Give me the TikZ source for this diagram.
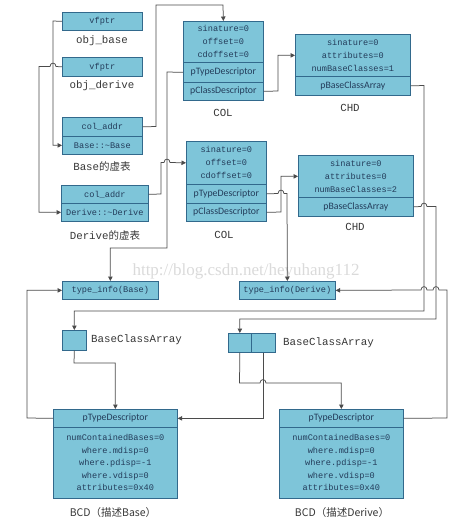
\documentclass[tikz,border=0pt]{standalone}
\usepackage{fontspec}
\setmainfont{Liberation Mono}
\newfontfamily\sansf{Carlito}
\newfontfamily\cjk{Noto Sans CJK SC}
\newfontfamily\wmf{Liberation Serif}
\usetikzlibrary{arrows.meta}
\definecolor{boxfill}{RGB}{126,197,217}
\definecolor{boxdraw}{RGB}{50,105,140}
\definecolor{boxtext}{RGB}{35,60,90}
\definecolor{labtext}{RGB}{55,55,55}
\definecolor{linec}{RGB}{75,75,75}
\definecolor{wmark}{RGB}{218,218,218}
\tikzset{
  box/.style={draw=boxdraw, fill=boxfill, line width=0.7pt, anchor=north west,
    inner sep=0pt, text=boxtext, align=center, font=\fontsize{8.6}{13}\selectfont},
  sbox/.style={box, font=\sansf\fontsize{9.8}{12}\selectfont},
  lab/.style={text=labtext, inner sep=0pt, font=\fontsize{10.8}{13}\selectfont},
  conn/.style={draw=linec, line width=0.75pt},
  arr/.style={conn, -{Triangle[length=4.5pt,width=4.5pt]}}
}
\begin{document}
\begin{tikzpicture}[x=1pt,y=-1pt]
\useasboundingbox (0,0) rectangle (474,525);
% watermark
\node[text=wmark, inner sep=0pt, font=\wmf\fontsize{17}{17}\selectfont] (wm) at (246,271) {http://blog.csdn.net/heyuhang112};

% object vfptrs
\node[box, minimum width=80pt, minimum height=18pt] (vf1) at (62,12) {vfptr};
\node[lab] (objb) at (102,41) {obj\_base};
\node[box, minimum width=80pt, minimum height=19pt] (vf2) at (62,57) {vfptr};
\node[lab] (objd) at (102,86) {obj\_derive};

% vtables
\node[box, minimum width=80pt, minimum height=19pt] (bcol) at (62,117) {col\_addr};
\node[box, minimum width=80pt, minimum height=18pt] (bdtor) at (62,136) {Base::\textasciitilde Base};
\node[lab] (bvt) at (102,166) {Base{\cjk\fontsize{10.5}{12}\selectfont 的虚表}};
\node[box, minimum width=87pt, minimum height=18pt] (dcol) at (61,185) {col\_addr};
\node[box, minimum width=87pt, minimum height=18pt] (ddtor) at (61,203) {Derive::\textasciitilde Derive};
\node[lab] (dvt) at (105,235) {Derive{\cjk\fontsize{10.5}{12}\selectfont 的虚表}};

% COL 1
\node[box, minimum width=80pt, minimum height=41pt] (col1h) at (183,21) {sinature=0\\offset=0\\cdoffset=0};
\node[sbox, minimum width=80pt, minimum height=20pt] (col1t) at (183,62) {pTypeDescriptor};
\node[sbox, minimum width=80pt, minimum height=18pt] (col1c) at (183,82) {pClassDescriptor};
\node[lab] (col1l) at (223,113) {COL};
% CHD 1
\node[box, minimum width=115pt, minimum height=42pt] (chd1h) at (295,34) {sinature=0\\attributes=0\\numBaseClasses=1};
\node[sbox, minimum width=115pt, minimum height=19pt] (chd1a) at (295,76) {pBaseClassArray};
\node[lab] (chd1l) at (350,108) {CHD};

% COL 2
\node[box, minimum width=80pt, minimum height=43pt] (col2h) at (186,141) {sinature=0\\offset=0\\cdoffset=0};
\node[sbox, minimum width=80pt, minimum height=19pt] (col2t) at (186,184) {pTypeDescriptor};
\node[sbox, minimum width=80pt, minimum height=18pt] (col2c) at (186,203) {pClassDescriptor};
\node[lab] (col2l) at (224,235) {COL};
% CHD 2
\node[box, minimum width=115pt, minimum height=42pt] (chd2h) at (298,155) {sinature=0\\attributes=0\\numBaseClasses=2};
\node[sbox, minimum width=115pt, minimum height=19pt] (chd2a) at (298,197) {pBaseClassArray};
\node[lab] (chd2l) at (355,227) {CHD};

% type_info
\node[box, minimum width=96pt, minimum height=18pt] (tib) at (62,281) {type\_info(Base)};
\node[box, minimum width=96pt, minimum height=18pt] (tid) at (239,281) {type\_info(Derive)};

% base class arrays
\node[box, minimum width=24pt, minimum height=20pt] (bca1) at (62,330) {};
\node[lab, anchor=west] (bca1l) at (91,340) {BaseClassArray};
\node[box, minimum width=23pt, minimum height=19pt] (bca2a) at (228,333) {};
\node[box, minimum width=24pt, minimum height=19pt] (bca2b) at (251,333) {};
\node[lab, anchor=west] (bca2l) at (283,343) {BaseClassArray};

% BCD 1
\node[sbox, minimum width=124pt, minimum height=18pt] (bcd1h) at (53,409) {pTypeDescriptor};
\node[box, minimum width=124pt, minimum height=71pt, font=\fontsize{8.6}{12.5}\selectfont] (bcd1b) at (53,427)
  {numContainedBases=0\\where.mdisp=0\\where.pdisp=-1\\where.vdisp=0\\attributes=0x40};
\node[lab, font=\cjk\fontsize{10.5}{12}\selectfont] (bcd1l) at (113,513) {BCD（描述Base）};
% BCD 2
\node[sbox, minimum width=124pt, minimum height=18pt] (bcd2h) at (279,409) {pTypeDescriptor};
\node[box, minimum width=124pt, minimum height=71pt, font=\fontsize{8.6}{12.5}\selectfont] (bcd2b) at (279,427)
  {numContainedBases=0\\where.mdisp=0\\where.pdisp=-1\\where.vdisp=0\\attributes=0x40};
\node[lab, font=\cjk\fontsize{10.5}{12}\selectfont] (bcd2l) at (342,513) {BCD（描述Derive）};

% connectors
\draw[arr] (vf1.west) -- (53,21) |- (bdtor.west);
\draw[arr] (vf2.west) -- (56,66.5) .. controls (56,62) and (50,62) .. (50,66.5) -- (39,66.5) |- (ddtor.west);
\draw[arr] (bcol.east) -- (156,126.5) |- (223,5) -- (col1h.north);
\draw[arr] (col1t.west) -- (167,72) -- (167,248) -| (tib.north);
\draw[arr] (dcol.east) -- (161,194) -- (161,162.5) -- (164,162.5) .. controls (164,158) and (170,158) .. (170,162.5) -- (col2h.west);
\draw[arr] (col1c.east) -- (278,91) |- (chd1h.west);
\draw[arr] (col2c.east) -- (281,212) |- (chd2h.west);
\draw[arr] (col2t.east) -- (278,193.5) .. controls (278,189) and (284,189) .. (284,193.5) -- (287,193.5) -- (tid.north);
\draw[arr] (chd1a.east) -- (424,85.5) -- (424,311) -| (bca1.north);
\draw[arr] (chd2a.east) -- (421,206.5) .. controls (421,202) and (427,202) .. (427,206.5) -- (436,206.5) -- (436,319) -| (bca2a.north);
\draw[arr] (bca1.south) -- (74,363) -| (bcd1h.north);
\draw[arr] (bca2a.south) -- (239.5,383) -- (260,383) .. controls (260,378.5) and (266,378.5) .. (266,383) -| (bcd2h.north);
\draw[arr] (bca2b.south) |- (bcd1h.east);
\draw[arr] (bcd1h.west) -- (27,418) |- (tib.west);
\draw[arr] (bcd2h.east) -- (447,418) -- (447,290) -- (439,290) .. controls (439,285.5) and (433,285.5) .. (433,290) -- (427,290) .. controls (427,285.5) and (421,285.5) .. (421,290) -- (tid.east);
\end{tikzpicture}
\end{document}
